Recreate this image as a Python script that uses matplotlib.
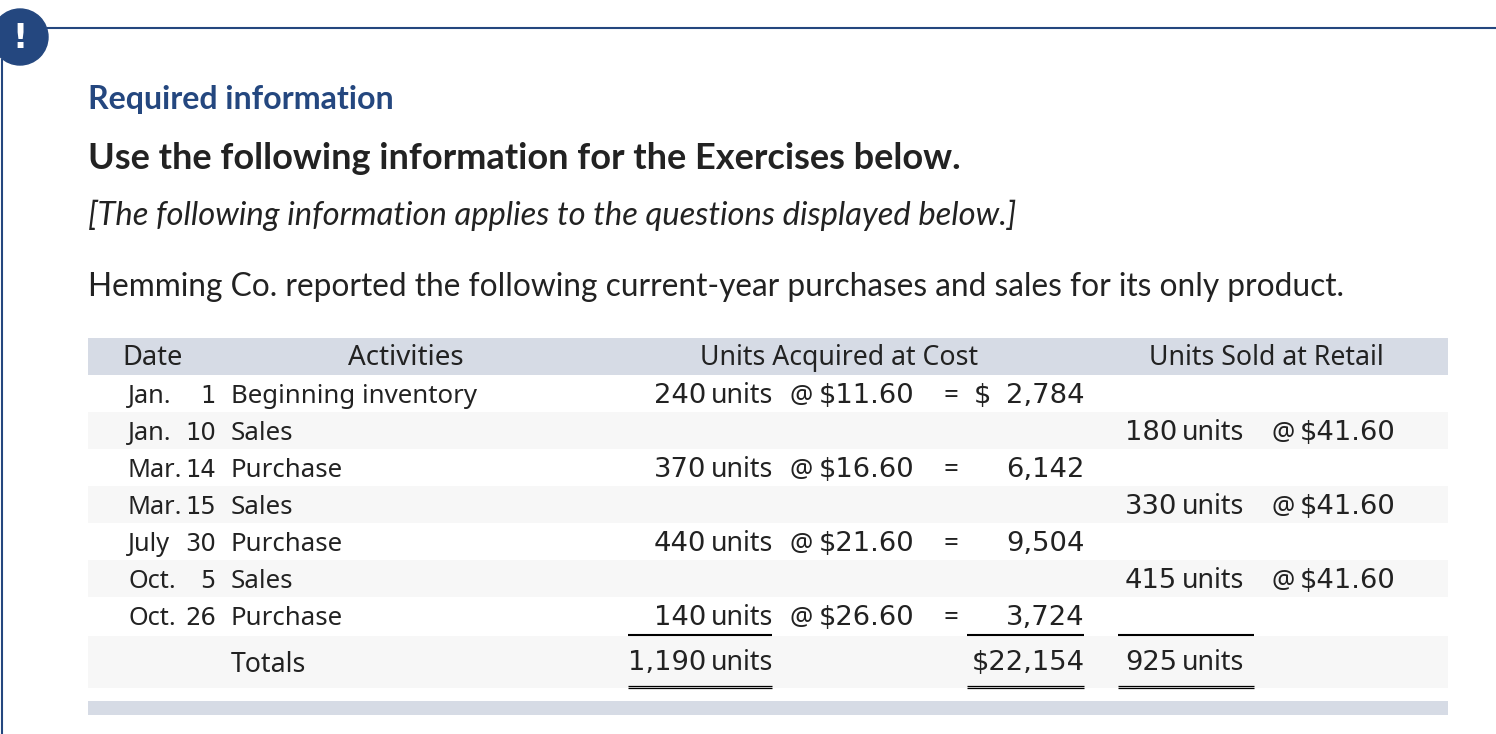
import matplotlib
matplotlib.use('Agg')
import matplotlib.pyplot as plt
from matplotlib.patches import Circle, Rectangle

# Table values
dates_month = ['Jan.', 'Jan.', 'Mar.', 'Mar.', 'July', 'Oct.', 'Oct.']
dates_day = ['1', '10', '14', '15', '30', '5', '26']
activities = ['Beginning inventory', 'Sales', 'Purchase', 'Sales', 'Purchase', 'Sales', 'Purchase']
acquired_units = ['240', '', '370', '', '440', '', '140']
acquired_price = ['$11.60', '', '$16.60', '', '$21.60', '', '$26.60']
acquired_cost = ['2,784', '', '6,142', '', '9,504', '', '3,724']
sold_units = ['', '180', '', '330', '', '415', '']
sold_price = ['', '$41.60', '', '$41.60', '', '$41.60', '']
total_acquired = '1,190'
total_cost = '$22,154'
total_sold = '925'

BLUE = '#24477f'
DARK = '#222222'
HEADER = '#d6dbe5'
STRIPE = '#f7f7f7'
TABLE_FONT = 'Noto Sans'
NUM_FONT = 'DejaVu Sans'
HEAD_FONT = 'Lato'
TS = 18.6
NS = 19.7

fig = plt.figure(figsize=(14.96, 7.34), dpi=100)
ax = fig.add_axes([0, 0, 1, 1])
ax.set_xlim(0, 1496)
ax.set_ylim(734, 0)
ax.axis('off')

# Frame and badge
ax.plot([48, 1496], [28, 28], color=BLUE, lw=1.5)
ax.plot([2.5, 2.5], [60, 734], color=BLUE, lw=1.5)
ax.add_patch(Circle((20, 37), 28, color=BLUE, zorder=3))
ax.text(20, 48, '!', color='white', fontsize=24, fontweight='bold', family=NUM_FONT,
        ha='center', va='baseline', zorder=4)

# Headings
ax.text(88, 108.5, 'Required information', color=BLUE, fontsize=23.1, fontweight='bold',
        family=HEAD_FONT)
ax.text(88, 169, 'Use the following information for the Exercises below.', color=DARK,
        fontsize=26.05, fontweight='bold', family=HEAD_FONT)
ax.text(88, 225, '[The following information applies to the questions displayed below.]',
        color=DARK, fontsize=23.6, style='italic', family=HEAD_FONT)
ax.text(88, 296, 'Hemming Co. reported the following current-year purchases and sales for its only product.',
        color=DARK, fontsize=22.8, family=HEAD_FONT)

# Bands
ax.add_patch(Rectangle((88, 338), 1360, 37, color=HEADER, lw=0))
for top in [412, 486, 560]:
    ax.add_patch(Rectangle((88, top), 1360, 37, color=STRIPE, lw=0))
ax.add_patch(Rectangle((88, 636), 1360, 52, color=STRIPE, lw=0))
ax.add_patch(Rectangle((88, 701), 1360, 14, color=HEADER, lw=0))


def cell(x, y, s, ha='left', size=TS):
    ax.text(x, y + 10, s, color=DARK, fontsize=size, family=TABLE_FONT, ha=ha, va='baseline')


def num(x, y, s, ha='right', size=NS):
    ax.text(x, y + 10, s, color=DARK, fontsize=size, family=NUM_FONT, ha=ha, va='baseline')


def units(x, y, s):
    # count and the word are set apart, the count has wider digits
    cell(x + 1, y, 'units', 'right', 19.2)
    num(x - 66, y, s)


# Header row
cell(122, 355, 'Date', size=19.6)
cell(406, 355, 'Activities', 'center', 20)
cell(839, 355, 'Units Acquired at Cost', 'center', 19.2)
cell(1266, 355, 'Units Sold at Retail', 'center', 19.2)

# Body rows
for i in range(len(activities)):
    y = 393 + i * 37
    cell(128, y, dates_month[i], size=18.2)
    num(216, y, dates_day[i], size=17.5)
    cell(231, y, activities[i])
    if acquired_units[i]:
        units(772, y, acquired_units[i])
        cell(790, y, '@')
        num(915, y, acquired_price[i])
        cell(951, y, '=', 'center')
        num(1085, y, acquired_cost[i])
    if sold_units[i]:
        units(1243, y, sold_units[i])
        cell(1272, y, '@')
        num(1396, y, sold_price[i])
num(974, 393, '$', 'left')

# Totals
cell(231, 662, 'Totals', size=19.2)
units(772, 660, total_acquired)
num(1085, 660, total_cost)
units(1243, 660, total_sold)

# Rules under the columns
for x0, x1 in [(628, 772), (967, 1084), (1118, 1254)]:
    ax.plot([x0, x1], [634.5, 634.5], color='black', lw=1.5, solid_capstyle='butt')
    ax.plot([x0, x1], [685.5, 685.5], color='black', lw=0.9, solid_capstyle='butt')
    ax.plot([x0, x1], [688, 688], color='black', lw=0.9, solid_capstyle='butt')

fig.savefig('out.png', dpi=100)
